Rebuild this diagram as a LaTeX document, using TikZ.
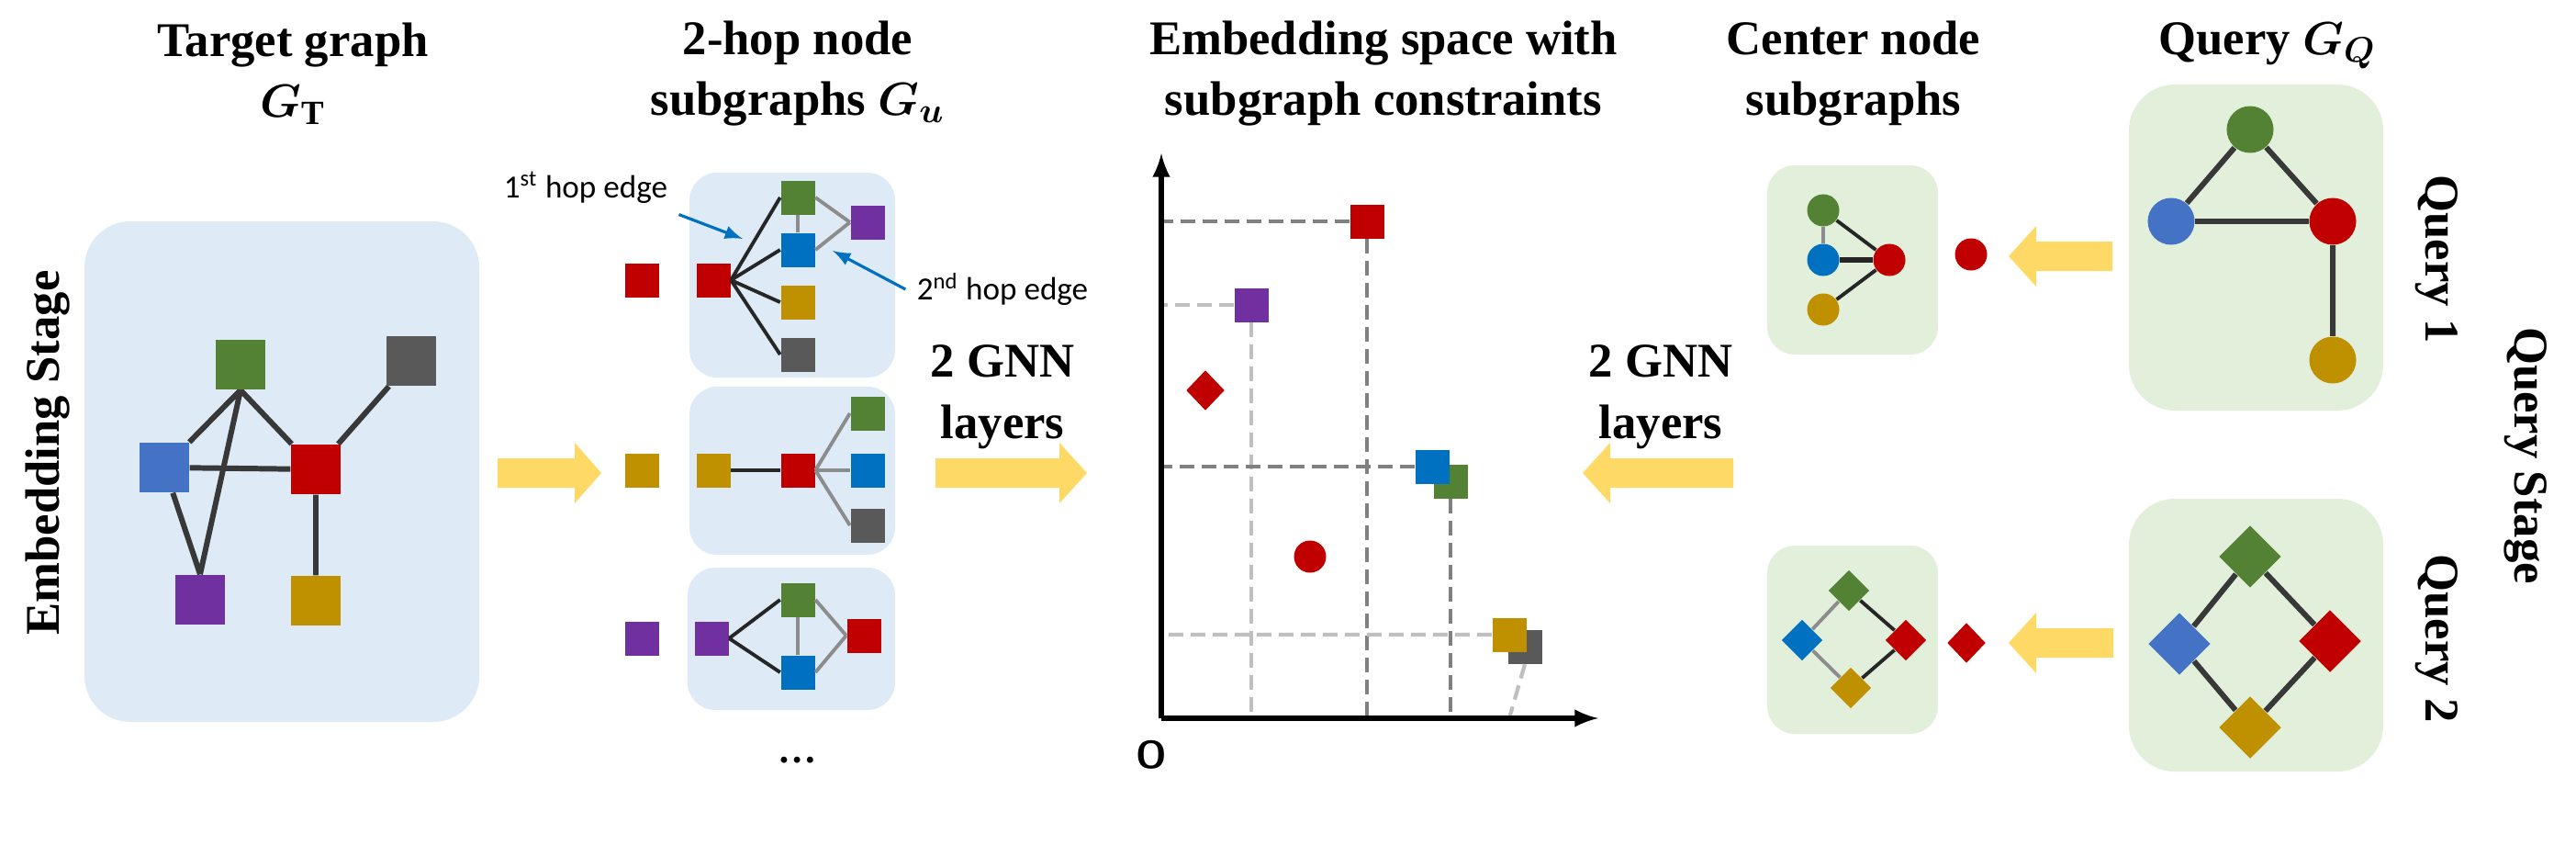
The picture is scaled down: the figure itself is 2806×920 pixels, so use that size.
\documentclass[tikz,border=0pt]{standalone}
\usepackage{amsmath}
\usepackage{fontspec}
\setmainfont{Liberation Serif}
\newfontfamily\hopfont{Carlito}
\usetikzlibrary{shapes.geometric}
\definecolor{cgreen}{HTML}{548235}
\definecolor{cgray}{HTML}{595959}
\definecolor{cblue}{HTML}{4472C4}
\definecolor{cblueb}{HTML}{0070C0}
\definecolor{cred}{HTML}{C00000}
\definecolor{cpurple}{HTML}{7030A0}
\definecolor{cyellow}{HTML}{BF9000}
\definecolor{boxblue}{HTML}{DEEAF6}
\definecolor{boxgreen}{HTML}{E2EFDA}
\definecolor{farrow}{HTML}{FFD966}
\begin{document}
\begin{tikzpicture}[x=0.1mm,y=-0.1mm]
    \tikzstyle{title}=[font=\fontsize{15}{19}\selectfont\bfseries,align=center]
    \tikzstyle{bsq}=[rectangle,inner sep=0pt,minimum size=5.4mm]
    \tikzstyle{ssq}=[rectangle,inner sep=0pt,minimum size=3.7mm]
    \tikzstyle{scirc}=[circle,inner sep=0pt,minimum size=3.5mm]
    \tikzstyle{bcirc}=[circle,inner sep=0pt,minimum size=5.1mm]
    \tikzstyle{sdia}=[diamond,inner sep=0pt,minimum size=4.5mm]
    \tikzstyle{bdia}=[diamond,inner sep=0pt,minimum size=6.8mm]
    \tikzstyle{edge}=[draw=black!78,line width=1.7pt]
    \tikzstyle{e1}=[draw=black!85,line width=1.1pt]
    \tikzstyle{e2}=[draw=black!45,line width=1.1pt]
    \tikzstyle{dk}=[draw=black!50,line width=1.2pt,dash pattern=on 1.6mm off 0.8mm]
    \tikzstyle{lt}=[draw=black!25,line width=1.2pt,dash pattern=on 1.6mm off 0.8mm]
    \tikzstyle{hop}=[font=\hopfont\fontsize{10}{12}\selectfont]
    \tikzstyle{hopar}=[draw=cblueb,line width=0.9pt,-latex]

    \useasboundingbox (0,0) rectangle (2806,920);

    % titles
    \node[title] (t1) at (319,80) {Target graph\\$\boldsymbol{G}_{\mathbf{T}}$};
    \node[title] (t2) at (869,80) {2-hop node\\subgraphs $\boldsymbol{G_u}$};
    \node[title] (t3) at (1507,80) {Embedding space with\\subgraph constraints};
    \node[title] (t4) at (2019,80) {Center node\\subgraphs};
    \node[title] (t5) at (2470,50) {Query $\boldsymbol{G_Q}$};
    \node[title,rotate=90] (es) at (52,493) {Embedding Stage};
    \node[title,rotate=-90] (qs) at (2751,496) {Query Stage};
    \node[title,rotate=-90] (q1) at (2654,282) {Query 1};
    \node[title,rotate=-90] (q2) at (2654,695) {Query 2};

    % target graph
    \fill[boxblue,rounded corners=5mm] (92,241) rectangle (522,786);
    \node[bsq,fill=cgreen]  (tg) at (262,397) {};
    \node[bsq,fill=cgray]   (tk) at (448,393) {};
    \node[bsq,fill=cblue]   (tb) at (179,509) {};
    \node[bsq,fill=cred]    (tr) at (344,511) {};
    \node[bsq,fill=cpurple] (tp) at (218,653) {};
    \node[bsq,fill=cyellow] (ty) at (344,654) {};
    \draw[edge] (tg.south) -- (tb) (tg.south) -- (tr) (tg.south) -- (tp.north) (tb) -- (tr)
        (tb) -- (tp.north) (tr) -- (tk) (tr) -- (ty);
    \node[bsq,fill=cgreen]  at (tg) {};
    \node[bsq,fill=cgray]   at (tk) {};
    \node[bsq,fill=cblue]   at (tb) {};
    \node[bsq,fill=cred]    at (tr) {};
    \node[bsq,fill=cpurple] at (tp) {};
    \node[bsq,fill=cyellow] at (ty) {};

    \fill[farrow] (542,499) -- (626,499) -- (626,482) -- (655,515) -- (626,548) -- (626,531) -- (542,531) -- cycle;

    % 2-hop subgraphs
    \node[ssq,fill=cred]    (u1) at (699,305) {};
    \node[ssq,fill=cyellow] (u2) at (699,512) {};
    \node[ssq,fill=cpurple] (u3) at (699,695) {};
    \fill[boxblue,rounded corners=3mm] (751,188) rectangle (975,411);
    \fill[boxblue,rounded corners=3mm] (751,421) rectangle (975,604);
    \fill[boxblue,rounded corners=3mm] (749,618) rectangle (975,773);

    \node[ssq,fill=cred]    (ar) at (777,305) {};
    \node[ssq,fill=cgreen]  (ag) at (869,215) {};
    \node[ssq,fill=cblueb]  (ab) at (869,272) {};
    \node[ssq,fill=cyellow] (ay) at (869,329) {};
    \node[ssq,fill=cgray]   (ak) at (869,386) {};
    \node[ssq,fill=cpurple] (ap) at (945,242) {};
    \draw[e2] (ag) -- (ab) (ag.east) -- (ap.west) (ab.east) -- (ap.west);
    \draw[e1] (ar.east) -- (ag.west) (ar.east) -- (ab.west) (ar.east) -- (ay.west) (ar.east) -- (ak.west);

    \node[ssq,fill=cyellow] (by) at (777,512) {};
    \node[ssq,fill=cred]    (br) at (869,512) {};
    \node[ssq,fill=cgreen]  (bg) at (945,450) {};
    \node[ssq,fill=cblueb]  (bb) at (945,512) {};
    \node[ssq,fill=cgray]   (bk) at (945,572) {};
    \draw[e1] (by) -- (br);
    \draw[e2] (br.east) -- (bg.west) (br.east) -- (bb.west) (br.east) -- (bk.west);

    \node[ssq,fill=cpurple] (cp) at (775,695) {};
    \node[ssq,fill=cgreen]  (cg) at (869,653) {};
    \node[ssq,fill=cblueb]  (cb) at (869,732) {};
    \node[ssq,fill=cred]    (cr) at (941,692) {};
    \draw[e1] (cp.east) -- (cg.west) (cp.east) -- (cb.west);
    \draw[e2] (cg) -- (cb) (cg.east) -- (cr.west) (cb.east) -- (cr.west);

    \node[font=\bfseries\large] (dots) at (869,828) {\dots};

    \node[hop] (h1) at (638,204) {1\textsuperscript{st} hop edge};
    \node[hop] (h2) at (1092,315) {2\textsuperscript{nd} hop edge};
    \coordinate (h1t) at (809,260);
    \coordinate (h2t) at (907,273);
    \draw[hopar] (h1.south east) -- (h1t);
    \draw[hopar] (h2.west) -- (h2t);

    \node[title] (g1) at (1092,432) {2 GNN\\layers};
    \fill[farrow] (1019,499) -- (1154,499) -- (1154,482) -- (1184,515) -- (1154,548) -- (1154,531) -- (1019,531) -- cycle;

    % embedding space
    \coordinate (o) at (1265,782);
    \coordinate (ytop) at (1265,167);
    \coordinate (xend) at (1741,782);
    \node[font=\sffamily\bfseries\large] (ol) at (1254,822) {O};
    \node[ssq,fill=cred]    (pr) at (1489,241) {};
    \node[ssq,fill=cpurple] (pp) at (1363,332) {};
    \node[sdia,fill=cred,minimum width=4.2mm,minimum height=4.4mm] (pd) at (1313,425) {};
    \node[ssq,fill=cgreen]  (pg) at (1580,524) {};
    \node[ssq,fill=cblueb]  (pb) at (1560,508) {};
    \node[scirc,fill=cred]  (pc) at (1427,606) {};
    \node[ssq,fill=cgray]   (pk) at (1661,704) {};
    \node[ssq,fill=cyellow] (py) at (1644,691) {};
    \draw[dk] (pr.west) -- (o |- pr) (pr.south) -- (pr |- o);
    \draw[lt] (pp.west) -- (o |- pp) (pp.south) -- (pp |- o);
    \draw[dk] (pb.west) -- (o |- pb) (pg.south) -- (pg.south |- o);
    \draw[lt] (py.west) -- (o |- py) (pk.south) -- (py |- o);
    \draw[line width=1.5pt,-latex] (o) -- (ytop);
    \draw[line width=1.5pt,-latex] (o) -- (xend);

    \node[title] (g2) at (1809,432) {2 GNN\\layers};
    \fill[farrow] (1888,499) -- (1754,499) -- (1754,482) -- (1724,515) -- (1754,548) -- (1754,531) -- (1888,531) -- cycle;

    % query 1
    \fill[boxgreen,rounded corners=3mm] (1925,180) rectangle (2111,386);
    \fill[boxgreen,rounded corners=5mm] (2319,92) rectangle (2596,447);
    \node[scirc,fill=cgreen]  (mg) at (1986,229) {};
    \node[scirc,fill=cblueb]  (mb) at (1986,283) {};
    \node[scirc,fill=cred]    (mr) at (2058,283) {};
    \node[scirc,fill=cyellow] (my) at (1986,337) {};
    \draw[e2] (mg) -- (mb);
    \draw[e1] (mg) -- (mr) (mr) -- (my);
    \draw[e1,line width=1.7pt] (mb) -- (mr);
    \node[scirc,fill=cred] (m0) at (2147,277) {};
    \fill[farrow] (2301,263) -- (2218,263) -- (2218,246) -- (2188,279) -- (2218,312) -- (2218,295) -- (2301,295) -- cycle;
    \node[bcirc,fill=cgreen]  (qg) at (2451,141) {};
    \node[bcirc,fill=cblue]   (qb) at (2365,241) {};
    \node[bcirc,fill=cred]    (qr) at (2541,241) {};
    \node[bcirc,fill=cyellow] (qy) at (2541,392) {};
    \draw[edge] (qg) -- (qb) (qg) -- (qr) (qb) -- (qr) (qr) -- (qy);

    % query 2
    \fill[boxgreen,rounded corners=3mm] (1925,594) rectangle (2111,799);
    \fill[boxgreen,rounded corners=5mm] (2319,543) rectangle (2596,840);
    \node[sdia,fill=cgreen]  (ng) at (2014,643) {};
    \node[sdia,fill=cblueb]  (nb) at (1963,697) {};
    \node[sdia,fill=cred]    (nr) at (2076,697) {};
    \node[sdia,fill=cyellow] (ny) at (2016,749) {};
    \draw[e2] (ng) -- (nb) (nb) -- (ny);
    \draw[e1] (ng) -- (nr) (nr) -- (ny);
    \node[sdia,fill=cred,minimum width=4.2mm,minimum height=4.4mm] (n0) at (2142,700) {};
    \fill[farrow] (2302,684) -- (2218,684) -- (2218,667) -- (2188,700) -- (2218,733) -- (2218,716) -- (2302,716) -- cycle;
    \node[bdia,fill=cgreen]  (rg) at (2451,606) {};
    \node[bdia,fill=cblue]   (rb) at (2374,701) {};
    \node[bdia,fill=cred]    (rr) at (2538,698) {};
    \node[bdia,fill=cyellow] (ry) at (2451,792) {};
    \draw[edge] (rg) -- (rb) (rg) -- (rr) (rb) -- (ry) (rr) -- (ry);
\end{tikzpicture}
\end{document}
